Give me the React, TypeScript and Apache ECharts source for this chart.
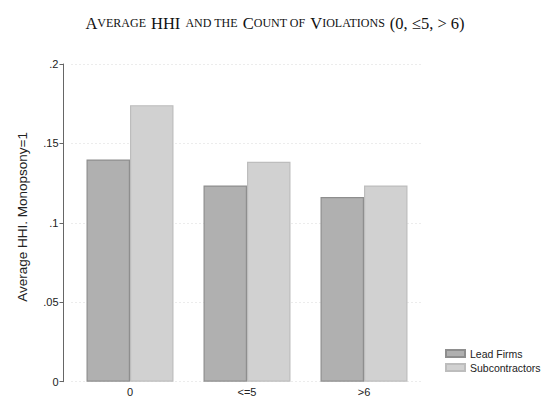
import React, { useEffect, useRef } from 'react';
import * as echarts from 'echarts';

const categories = ['0', '<=5', '>6'];
const leadFirms = [0.1399, 0.1235, 0.1163];
const subcontractors = [0.1741, 0.1384, 0.1235];
const yTickLabels = ['0', '.05', '.1', '.15', '.2'];

const App: React.FC = () => {
  const chartRef = useRef<HTMLDivElement>(null);

  useEffect(() => {
    if (!chartRef.current) return;
    const chart = echarts.init(chartRef.current, undefined, { renderer: 'svg' });

    const option = {
      animation: false,
      backgroundColor: '#fff',
      title: {
        text: '{b|A}{s|VERAGE} {b|HHI} {s|AND THE} {b|C}{s|OUNT OF} {b|V}{s|IOLATIONS} {b|(0, ≤5, > 6)}',
        left: 'center',
        top: 9,
        textStyle: {
          fontWeight: 'normal',
          rich: {
            b: { fontFamily: 'Liberation Serif', fontSize: 16.5, fontWeight: 'normal', color: '#111' },
            s: { fontFamily: 'Liberation Serif', fontSize: 12, fontWeight: 'normal', color: '#111' },
          },
        },
      },
      legend: {
        orient: 'vertical',
        left: 440,
        top: 343,
        itemWidth: 19,
        itemHeight: 7,
        itemGap: 3,
        icon: 'rect',
        textStyle: { fontFamily: 'Liberation Sans', fontSize: 10.5, color: '#222' },
        data: ['Lead Firms', 'Subcontractors'],
      },
      grid: {
        left: 71.5,
        right: 127.5,
        top: 64,
        bottom: 23.3,
      },
      xAxis: {
        type: 'category',
        data: categories,
        axisLine: { show: false },
        axisTick: { show: false },
        axisLabel: {
          fontFamily: 'Liberation Sans',
          fontSize: 11,
          color: '#222',
          margin: 5,
        },
      },
      yAxis: {
        type: 'value',
        min: 0,
        max: 0.2,
        interval: 0.05,
        offset: 8,
        name: 'Average HHI. Monopsony=1',
        nameLocation: 'middle',
        nameGap: 34,
        nameTextStyle: {
          fontFamily: 'Liberation Sans',
          fontSize: 13.5,
          color: '#222',
          padding: [0, 0, 0, 12],
        },
        axisLine: { show: true, lineStyle: { color: '#666', width: 1 } },
        axisTick: { show: true, length: 4, lineStyle: { color: '#666' } },
        axisLabel: {
          fontFamily: 'Liberation Sans',
          fontSize: 11,
          color: '#222',
          margin: 5,
          formatter: (v: number) => yTickLabels[Math.round(v / 0.05)],
        },
        splitLine: {
          show: true,
          lineStyle: { color: '#d8d8d8', type: [1, 3], width: 1 },
        },
      },
      series: [
        {
          name: 'Lead Firms',
          type: 'bar',
          data: leadFirms,
          barWidth: 43.5,
          barGap: '0%',
          itemStyle: { color: '#b0b0b0', borderColor: '#8e8e8e', borderWidth: 1.2 },
        },
        {
          name: 'Subcontractors',
          type: 'bar',
          data: subcontractors,
          barWidth: 43.5,
          barGap: '0%',
          itemStyle: { color: '#d1d1d1', borderColor: '#bdbdbd', borderWidth: 1.2 },
        },
      ],
    };

    chart.setOption(option);

    return () => {
      chart.dispose();
    };
  }, []);

  return <div ref={chartRef} style={{ width: 550, height: 405, margin: -8 }} />;
};

export default App;
